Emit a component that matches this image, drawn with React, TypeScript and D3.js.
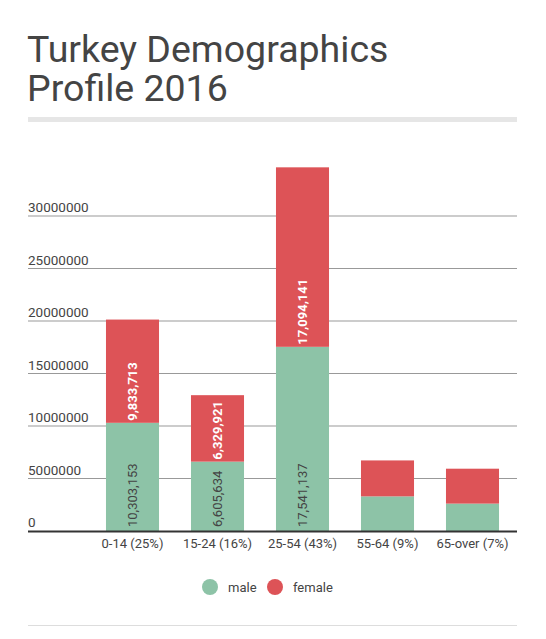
import React from "react";
import * as d3 from "d3";

const title = ["Turkey Demographics", "Profile 2016"];
const categories = ["0-14 (25%)", "15-24 (16%)", "25-54 (43%)", "55-64 (9%)", "65-over (7%)"];
const male = [10303153, 6605634, 17541137, 3297525, 2608041];
const female = [9833713, 6329921, 17094141, 3423874, 3325210];
const showLabels = [true, true, true, false, false];
const yTicks = [0, 5000000, 10000000, 15000000, 20000000, 25000000, 30000000];
const seriesNames = ["male", "female"];
const colors = ["#8dc3a7", "#dd5357"];

const W = 546, H = 639;
const FONT = "Roboto, 'Noto Sans', sans-serif";

export default function App() {
  const x = d3.scaleBand<string>().domain(categories).range([90, 515]).paddingInner(0.376).paddingOuter(0.188);
  const y = d3.scaleLinear().domain([0, 30000000]).range([531, 216]);
  const fmt = d3.format(",");
  return (
    <svg width={W} height={H} style={{ position: "absolute", left: 0, top: 0 }} fontFamily={FONT}>
      <rect width={W} height={H} fill="#fff" />
      {title.map((t, i) => (
        <text key={i} x={27} y={62 + i * 39} fontSize={37.5} fill="#444">{t}</text>
      ))}
      <rect x={28} y={117} width={489} height={5} fill="#e6e6e6" />
      {yTicks.map((t) => (
        <g key={t}>
          {t !== 0 && <line x1={28} x2={517} y1={y(t)} y2={y(t)} stroke="#999" strokeWidth={1} />}
          <text x={28} y={y(t) - 4} fontSize={13.5} fill="#444">{t}</text>
        </g>
      ))}
      {categories.map((c, i) => {
        const bx = x(c)!;
        const bw = x.bandwidth();
        const cx = bx + bw / 2;
        const ym = y(male[i]);
        const yf = y(male[i] + female[i]);
        return (
          <g key={c}>
            <rect x={bx} y={ym} width={bw} height={y(0) - ym} fill={colors[0]} />
            <rect x={bx} y={yf} width={bw} height={ym - yf} fill={colors[1]} />
            {showLabels[i] && (
              <>
                <text transform={`translate(${cx},${y(0) - 4}) rotate(-90)`} dy="0.35em" fontSize={13} fill="#444">{fmt(male[i])}</text>
                <text transform={`translate(${cx},${ym - 2}) rotate(-90)`} dy="0.35em" fontSize={13} fontWeight="bold" fill="#fff">{fmt(female[i])}</text>
              </>
            )}
            <text x={cx} y={548} fontSize={13} textAnchor="middle" fill="#444">{c}</text>
          </g>
        );
      })}
      <line x1={28} x2={517} y1={531.5} y2={531.5} stroke="#333" strokeWidth={2} />
      {seriesNames.map((s, i) => (
        <g key={s} transform={`translate(${210 + i * 65},587)`}>
          <circle r={8} fill={colors[i]} />
          <text x={18} dy="0.35em" fontSize={13} fill="#444">{s}</text>
        </g>
      ))}
      <line x1={28} x2={517} y1={625.5} y2={625.5} stroke="#ddd" strokeWidth={1} />
    </svg>
  );
}
